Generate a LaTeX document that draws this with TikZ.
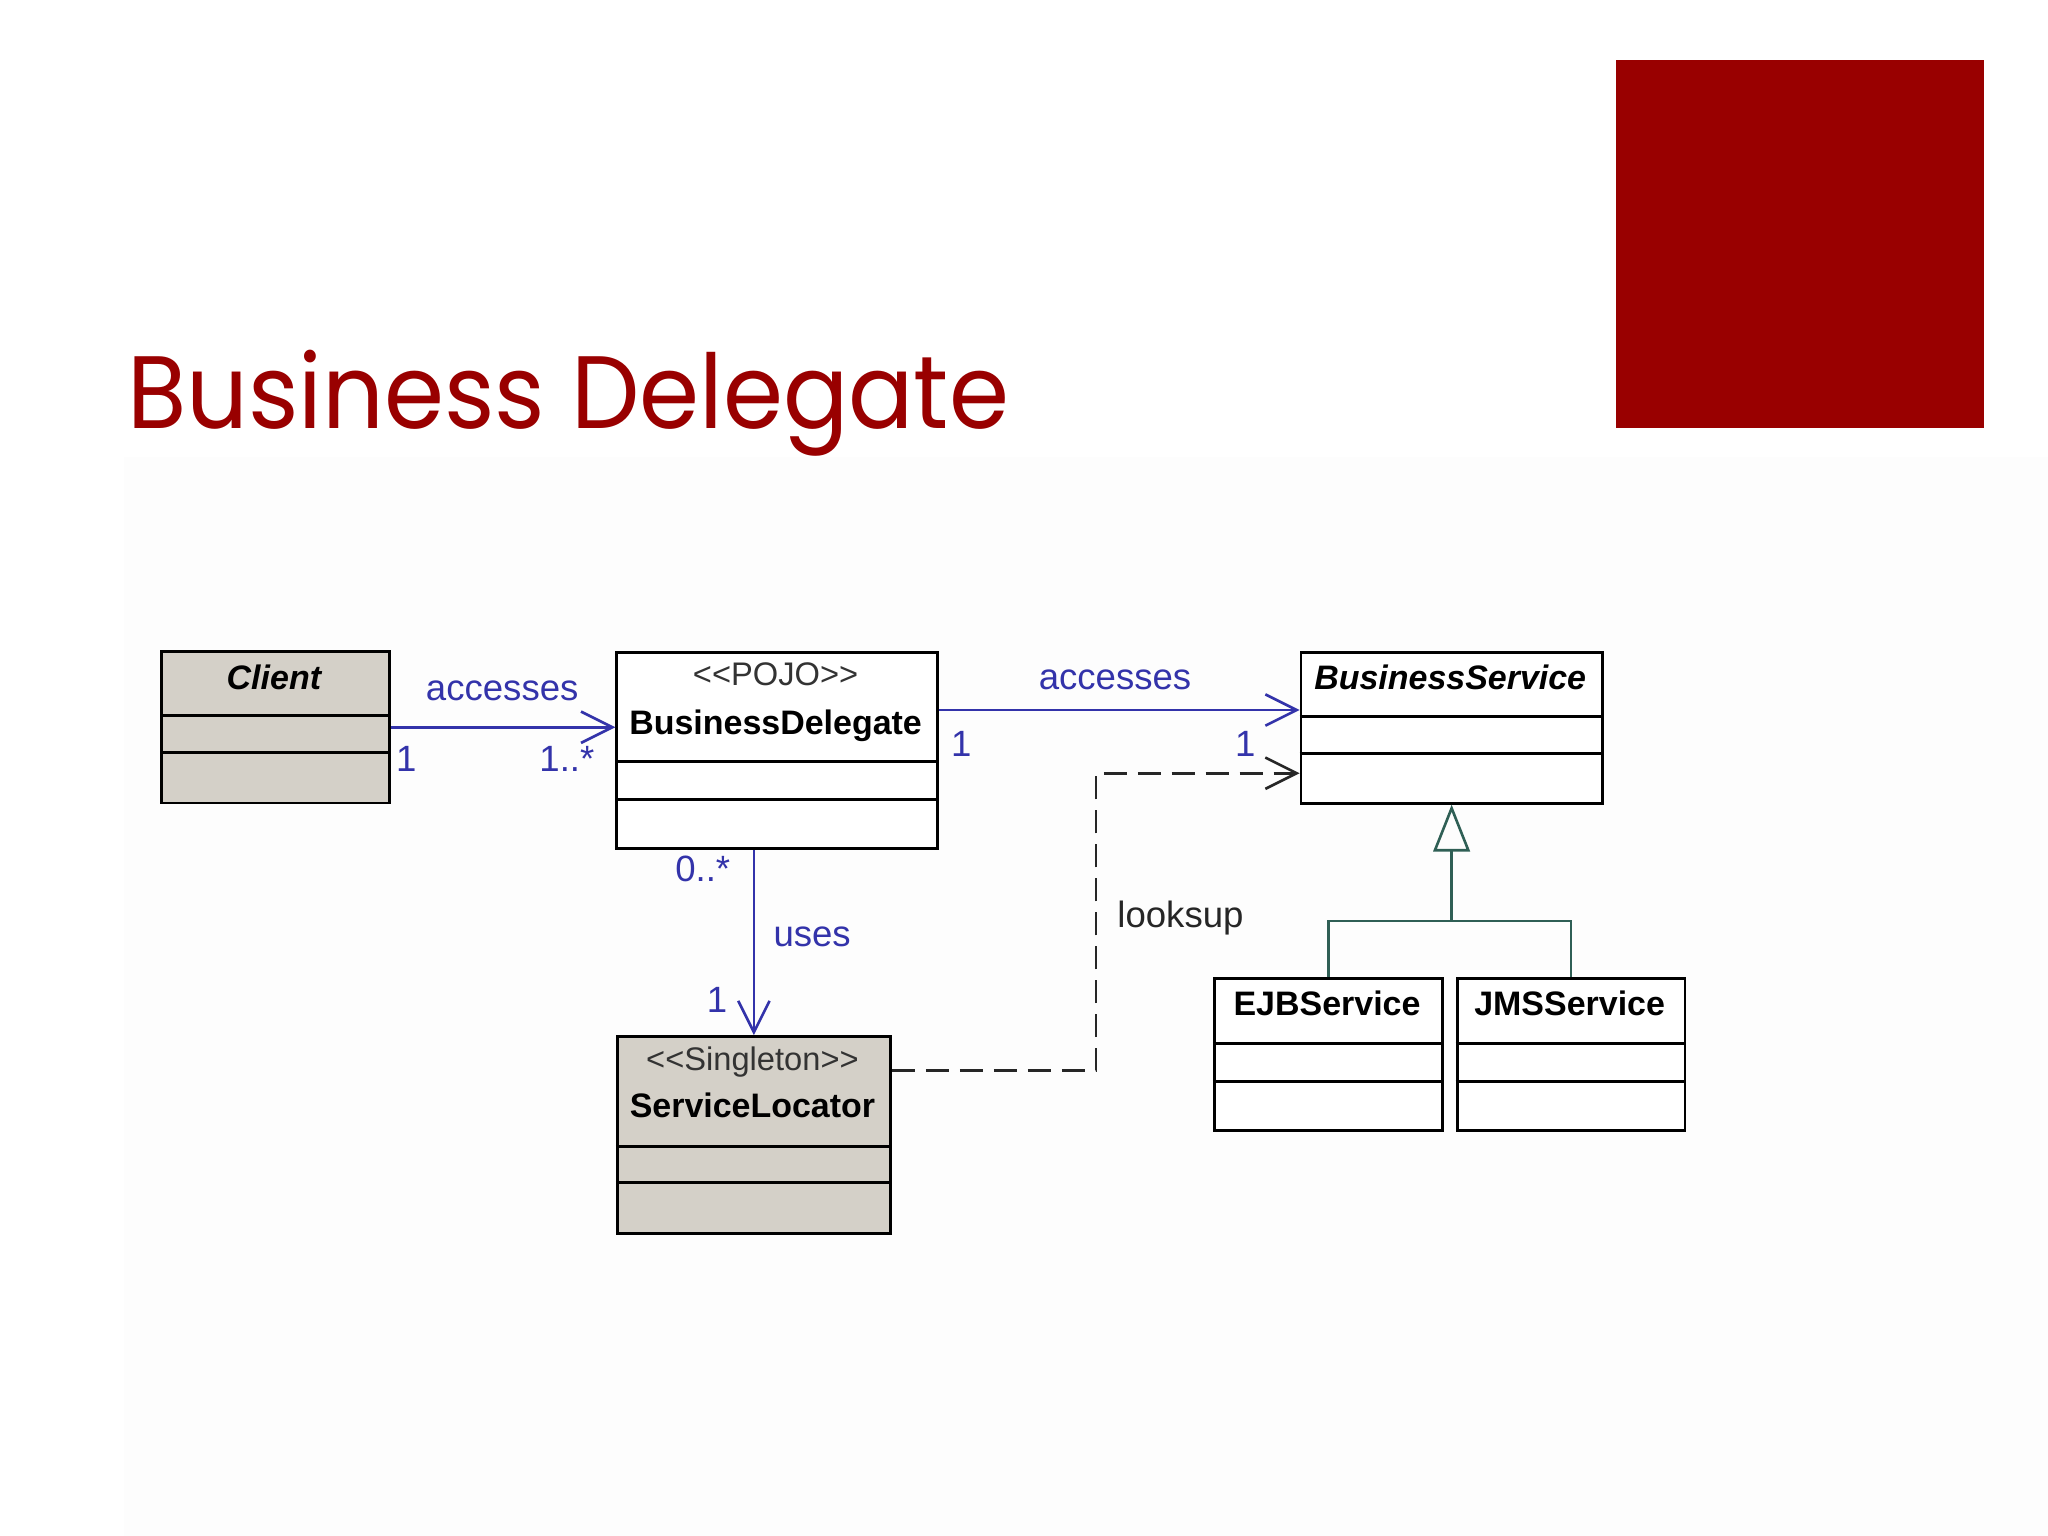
\documentclass[tikz,border=0pt]{standalone}
\usepackage{fontspec}
\setmainfont{Liberation Sans}
\newfontfamily\titlefont{Poppins}
\usetikzlibrary{arrows.meta}
\definecolor{slidered}{RGB}{153,0,0}
\definecolor{umlgray}{RGB}{212,208,200}
\definecolor{umlblue}{RGB}{51,51,170}
\definecolor{umlteal}{RGB}{47,95,85}
\definecolor{bggray}{RGB}{253,253,253}
\begin{document}
\begin{tikzpicture}[x=0.5pt,y=-0.5pt,
  cls/.style={draw=black, line width=1.1pt, rectangle, inner sep=0pt, anchor=north west},
  sepline/.style={line width=1.1pt},
  nm/.style={font=\fontsize{13}{15}\selectfont\bfseries, inner sep=0pt, anchor=base},
  nmi/.style={font=\fontsize{13}{15}\selectfont\bfseries\itshape, inner sep=0pt, anchor=base},
  stereo/.style={font=\fontsize{12.5}{15}\selectfont, inner sep=0pt, anchor=base, text=black!80},
  lbl/.style={font=\fontsize{14}{16}\selectfont, text=umlblue, inner sep=0pt, anchor=base},
  assoc/.style={draw=umlblue, line width=1pt, -{Straight Barb[length=12pt,width=12pt]}},
  dep/.style={draw=black!85, line width=1pt, dash pattern=on 9pt off 4pt, -{Straight Barb[length=12pt,width=12pt]}},
  gen/.style={draw=umlteal, line width=1pt},
]
\useasboundingbox (0,0) rectangle (1568,1176);
\fill[white] (0,0) rectangle (1568,1176);
\fill[bggray] (95,350) rectangle (1568,1176);

% red square
\fill[slidered] (1237,46) rectangle (1519,328);

% title
\node[anchor=base west, inner sep=0pt, text=slidered, font=\titlefont] (title) at (97,328) {\resizebox{337.5pt}{30pt}{Business Delegate}};

% Client
\node[cls, fill=umlgray, minimum width=87.25pt, minimum height=58pt] (client) at (122.5,497.7) {};
\draw[sepline] ([yshift=-24.9pt]client.north west) -- ([yshift=-24.9pt]client.north east);
\draw[sepline] ([yshift=-39.3pt]client.north west) -- ([yshift=-39.3pt]client.north east);
\node[nmi] (clientname) at (209.7,527.8) {Client};

% BusinessDelegate
\node[cls, fill=white, minimum width=122.7pt, minimum height=75.3pt] (bd) at (471.1,498.2) {};
\draw[sepline] ([yshift=-42.5pt]bd.north west) -- ([yshift=-42.5pt]bd.north east);
\draw[sepline] ([yshift=-56.9pt]bd.north west) -- ([yshift=-56.9pt]bd.north east);
\node[stereo] (bdst) at (593.8,524.5) {<{}<POJO>{}>};
\node[nm] (bdname) at (593.8,562) {BusinessDelegate};

% BusinessService
\node[cls, fill=white, minimum width=115.3pt, minimum height=57.8pt] (bs) at (995,498.2) {};
\draw[sepline] ([yshift=-25.25pt]bs.north west) -- ([yshift=-25.25pt]bs.north east);
\draw[sepline] ([yshift=-39.3pt]bs.north west) -- ([yshift=-39.3pt]bs.north east);
\node[nmi] (bsname) at (1110.3,527.8) {BusinessService};

% ServiceLocator
\node[cls, fill=umlgray, minimum width=104.6pt, minimum height=75.25pt] (sl) at (471.5,792.5) {};
\draw[sepline] ([yshift=-42.5pt]sl.north west) -- ([yshift=-42.5pt]sl.north east);
\draw[sepline] ([yshift=-56.4pt]sl.north west) -- ([yshift=-56.4pt]sl.north east);
\node[stereo] (slst) at (576.1,819.3) {<{}<Singleton>{}>};
\node[nm] (slname) at (576.1,855.8) {ServiceLocator};

% EJBService
\node[cls, fill=white, minimum width=87.4pt, minimum height=58.1pt] (ejb) at (928.6,748.3) {};
\draw[sepline] ([yshift=-25.3pt]ejb.north west) -- ([yshift=-25.3pt]ejb.north east);
\draw[sepline] ([yshift=-39.7pt]ejb.north west) -- ([yshift=-39.7pt]ejb.north east);
\node[nm] (ejbname) at (1016,777.7) {EJBService};

% JMSService
\node[cls, fill=white, minimum width=87.25pt, minimum height=58.1pt] (jms) at (1114.5,748.3) {};
\draw[sepline] ([yshift=-25.3pt]jms.north west) -- ([yshift=-25.3pt]jms.north east);
\draw[sepline] ([yshift=-39.7pt]jms.north west) -- ([yshift=-39.7pt]jms.north east);
\node[nm] (jmsname) at (1201.75,777.7) {JMSService};

% helper coordinates
\coordinate (yacc) at (0,543.6);
\coordinate (ydep) at (0,592);
\coordinate (ysl) at (0,819.8);
\coordinate (xdep) at (839.2,0);
\coordinate (ygen) at (0,705);

% Client -> BusinessDelegate
\draw[assoc] (client.east) -- (client.east -| bd.west);
\node[lbl] (acc1) at (384.5,536) {accesses};
\node[lbl] (m1) at (311,590.8) {1};
\node[lbl] (m2) at (434,590.8) {1..*};

% BusinessDelegate -> BusinessService
\draw[assoc] (bd.east |- yacc) -- (bs.west |- yacc);
\node[lbl] (acc2) at (853.7,527.8) {accesses};
\node[lbl] (m3) at (736,579.4) {1};
\node[lbl] (m4) at (953.5,579.4) {1};

% BusinessDelegate -> ServiceLocator
\draw[assoc] (sl.north |- bd.south) -- (sl.north);
\node[lbl] (m5) at (538,675) {0..*};
\node[lbl] (uses) at (621.8,725) {uses};
\node[lbl] (m6) at (549,775.4) {1};

% ServiceLocator - - > BusinessService
\draw[dep] (sl.east |- ysl) -- (xdep |- ysl) -- (xdep |- ydep) -- (bs.west |- ydep);
\node[lbl, text=black!85] (looksup) at (903.8,710) {looksup};

% generalization
\coordinate (gj) at (bs.south |- ygen);
\draw[gen, -{Triangle[open, length=18pt, width=14pt]}] (gj) -- (bs.south);
\draw[gen] (ejb.north) -- (ejb.north |- gj) -- (jms.north |- gj) -- (jms.north);
\end{tikzpicture}
\end{document}
